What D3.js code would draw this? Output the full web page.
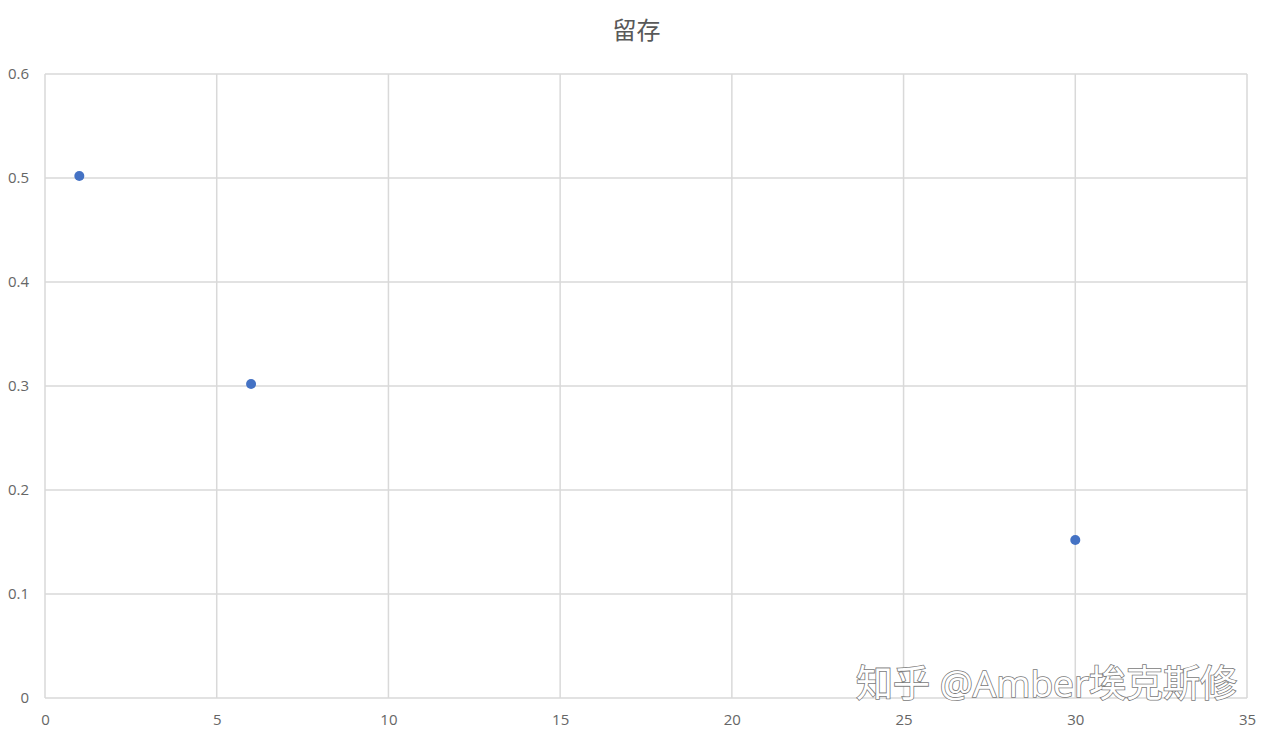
<!DOCTYPE html>
<html>
<head>
<meta charset="utf-8">
<script src="https://cdn.jsdelivr.net/npm/d3@7"></script>
<style>
  body { margin: 0; background: #fff; }
  text { font-family: "Open Sans", "Noto Sans CJK SC", sans-serif; }
</style>
</head>
<body>
<script>
// base data
const days = [1, 6, 30];
const retention = [0.502, 0.302, 0.152];
const xTicks = [0, 5, 10, 15, 20, 25, 30, 35];
const yTicks = [0, 0.1, 0.2, 0.3, 0.4, 0.5, 0.6];
const title = '留存';
const watermark = '知乎 @Amber埃克斯修';

// constants
const width = 1267;
const height = 737;
const margin = { top: 74, bottom: 39, left: 45, right: 20 };
const textColor = '#595959';
const gridColor = '#d9d9d9';

const svg = d3.select('body').append('svg')
  .attr('width', width).attr('height', height);

const xScale = d3.scaleLinear()
  .domain([0, 35])
  .range([margin.left, width - margin.right]);

const yScale = d3.scaleLinear()
  .domain([0, 0.6])
  .range([height - margin.bottom, margin.top]);

// vertical grid
svg.append('g').selectAll('line').data(xTicks).enter().append('line')
  .attr('x1', d => xScale(d)).attr('x2', d => xScale(d))
  .attr('y1', yScale(0)).attr('y2', yScale(0.6))
  .attr('stroke', gridColor).attr('stroke-width', 1.5);

// horizontal grid
svg.append('g').selectAll('line').data(yTicks).enter().append('line')
  .attr('x1', xScale(0)).attr('x2', xScale(35))
  .attr('y1', d => yScale(d)).attr('y2', d => yScale(d))
  .attr('stroke', gridColor).attr('stroke-width', 1.5);

// x axis labels
const xAxis = svg.append('g')
  .attr('transform', `translate(0, ${height - margin.bottom})`)
  .call(d3.axisBottom(xScale).tickValues(xTicks).tickSize(0).tickPadding(16));

// y axis labels
const yAxis = svg.append('g')
  .attr('transform', `translate(${margin.left}, 0)`)
  .call(d3.axisLeft(yScale).tickValues(yTicks).tickSize(0).tickPadding(16)
    .tickFormat(d => d === 0 ? '0' : d3.format('.1f')(d)));

[xAxis, yAxis].forEach(a => {
  a.select('.domain').remove();
  a.selectAll('text').attr('fill', '#666').attr('font-size', 15)
    .attr('font-family', '"Open Sans", sans-serif');
});

// points
svg.append('g').selectAll('circle').data(days).enter().append('circle')
  .attr('cx', (d) => xScale(d))
  .attr('cy', (d, i) => yScale(retention[i]))
  .attr('r', 5)
  .attr('fill', '#4472c4');

// title
svg.append('text')
  .attr('x', width / 2 + 3).attr('y', 39)
  .attr('text-anchor', 'middle')
  .attr('font-size', 24)
  .attr('font-family', '"Noto Sans CJK SC", sans-serif')
  .attr('fill', textColor)
  .text(title);

// watermark
svg.append('text')
  .attr('x', 1237).attr('y', 697)
  .attr('text-anchor', 'end')
  .attr('font-size', 37)
  .attr('font-family', '"Noto Sans CJK SC", sans-serif')
  .attr('fill', '#ffffff')
  .attr('stroke', '#7a7a7a')
  .attr('stroke-width', 1.6)
  .attr('paint-order', 'stroke')
  .text(watermark);
</script>
</body>
</html>
